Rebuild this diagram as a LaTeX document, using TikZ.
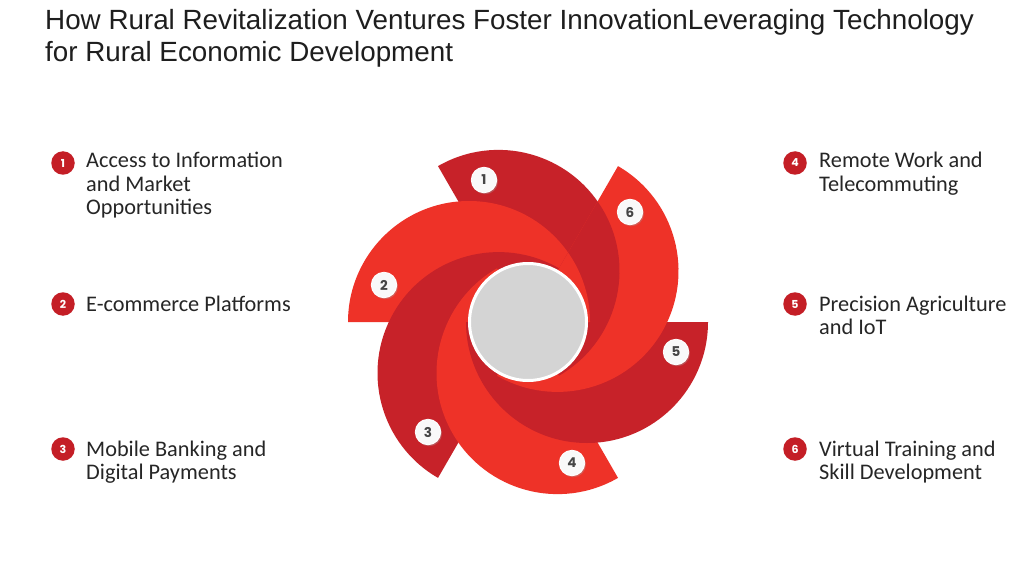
\documentclass[tikz,border=0pt]{standalone}
\usepackage{fontspec}
\setmainfont{Carlito}
\newfontfamily\titlefont{Liberation Sans}
\newfontfamily\numfont{Poppins}
\usetikzlibrary{calc}
\definecolor{bladedark}{RGB}{199,34,41}
\definecolor{bladebright}{RGB}{238,50,40}
\definecolor{hubgray}{RGB}{212,212,212}
\definecolor{sidered}{RGB}{196,30,38}
\definecolor{titleink}{RGB}{30,30,30}
\definecolor{itemink}{RGB}{38,38,38}
\definecolor{numink}{RGB}{70,70,70}
% half-disc blade: centre on a ring of radius 59 round C, radius 121
\newcommand\bladepath[1]{($(C)+(#1:180)$) arc[start angle=#1, end angle=#1-180, radius=121] -- cycle}
\newcommand\linesii[2]{\vtop{\hbox{#1}\hbox{#2}}}
\newcommand\linesiii[3]{\vtop{\hbox{#1}\hbox{#2}\hbox{#3}}}
\tikzset{
  bladebadge/.style={circle, fill=white!95!gray, draw=white, line width=0.8pt, minimum size=25.5pt, inner sep=0pt,
    font=\numfont\bfseries\fontsize{13.5}{13.5}\selectfont, text=numink},
  badgeshadow/.style={circle, fill=black!35, opacity=0.35, minimum size=25.5pt, inner sep=0pt},
  sidebadge/.style={circle, fill=sidered, minimum size=23.5pt, inner sep=0pt,
    font=\numfont\bfseries\fontsize{11}{11}\selectfont, text=white},
  itemtext/.style={anchor=base west, inner sep=0pt, text=itemink,
    font=\fontsize{22.3}{23.5}\selectfont},
  titletext/.style={anchor=base west, inner sep=0pt, text=titleink,
    font=\titlefont\fontsize{27.8}{32}\selectfont}
}
\begin{document}
\begin{tikzpicture}[x=1pt,y=1pt]
\useasboundingbox (0,0) rectangle (1024,563);
\fill[white] (0,0) rectangle (1024,563);
% title
\node[titletext] (title1) at (45,533) {How Rural Revitalization Ventures Foster InnovationLeveraging Technology};
\node[titletext] (title2) at (45,501) {for Rural Economic Development};
% swirl
\coordinate (C) at (528,241);
\fill[bladedark]   \bladepath{120};
\fill[bladebright] \bladepath{180};
\fill[bladedark]   \bladepath{240};
\fill[bladebright] \bladepath{300};
\fill[bladedark]   \bladepath{0};
\fill[bladebright] \bladepath{60};
\begin{scope}
  \clip \bladepath{60};
  \fill[bladedark]   \bladepath{120};
  \fill[bladebright] \bladepath{180};
\end{scope}
\node[circle, fill=hubgray, draw=white, line width=3pt, minimum size=117pt, inner sep=0pt] (hub) at (C) {};
% blade badges
\foreach \n/\x/\y in {1/484/383, 2/384/278, 3/428/131, 4/572/100, 5/676/211, 6/630/351}{
  \node[badgeshadow] at (\x+1.2,\y-1.5) {};
  \node[bladebadge] (b\n) at (\x,\y) {\n};
}
% side badges and texts
\node[sidebadge] (s1) at (63,400) {1};
\node[itemtext] (t1) at (86,395) {\linesiii{Access to Information}{and Market}{Opportunities}};
\node[sidebadge] (s2) at (63,259) {2};
\node[itemtext] (t2) at (86,252) {E-commerce Platforms};
\node[sidebadge] (s3) at (63,114) {3};
\node[itemtext] (t3) at (86,107) {\linesii{Mobile Banking and}{Digital Payments}};
\node[sidebadge] (s4) at (795,400) {4};
\node[itemtext] (t4) at (819,395) {\linesii{Remote Work and}{Telecommuting}};
\node[sidebadge] (s5) at (795,259) {5};
\node[itemtext] (t5) at (819,252) {\linesii{Precision Agriculture}{and IoT}};
\node[sidebadge] (s6) at (795,114) {6};
\node[itemtext] (t6) at (819,107) {\linesii{Virtual Training and}{Skill Development}};
\end{tikzpicture}
\end{document}
